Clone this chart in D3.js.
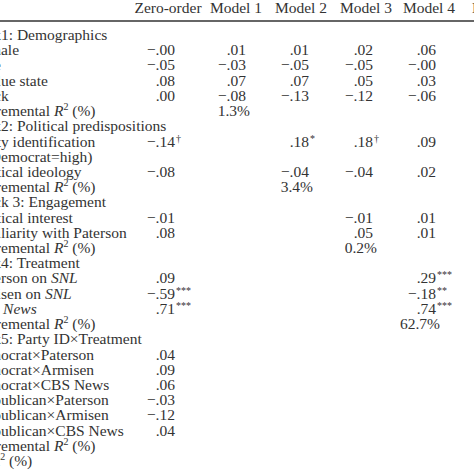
<!DOCTYPE html>
<html><head><meta charset="utf-8">
<script src="https://cdn.jsdelivr.net/npm/d3@7"></script>
<style>body{margin:0;background:#fff}svg{display:block}</style>
</head><body>
<script>
// row labels: [hidden prefix, visible part]
var rowLabels = [
  ["Block", "1: Demographics"], ["Fem", "ale"], ["Age", ""], ["Bl", "ue state"], ["Blac", "k"],
  ["Incr", "emental R2 (%)"],
  ["Block", "2: Political predispositions"], ["Part", "y identification"], ["(D", "emocrat=high)"],
  ["Polit", "ical ideology"], ["Incr", "emental R2 (%)"],
  ["Bloc", "k 3: Engagement"], ["Polit", "ical interest"], ["Fami", "liarity with Paterson"],
  ["Incr", "emental R2 (%)"],
  ["Block", "4: Treatment"], ["Pate", "rson on SNL"], ["Armi", "sen on SNL"], ["CBS ", "News"],
  ["Incr", "emental R2 (%)"],
  ["Block", "5: Party ID×Treatment"], ["Dem", "ocrat×Paterson"], ["Dem", "ocrat×Armisen"],
  ["Dem", "ocrat×CBS News"], ["Rep", "ublican×Paterson"], ["Rep", "ublican×Armisen"],
  ["Rep", "ublican×CBS News"], ["Incr", "emental R2 (%)"], ["Total R", "2 (%)"]
];
var columns = ["Zero-order", "Model 1", "Model 2", "Model 3", "Model 4", "Model 5"];
// values per column, indexed by row; [text, superscript]
var zeroOrder = {1:["−.00"],2:["−.05"],3:[".08"],4:[".00"],7:["−.14","†"],9:["−.08"],12:["−.01"],13:[".08"],
  16:[".09"],17:["−.59","***"],18:[".71","***"],21:[".04"],22:[".09"],23:[".06"],24:["−.03"],25:["−.12"],26:[".04"]};
var model1 = {1:[".01"],2:["−.03"],3:[".07"],4:["−.08"],5:["1.3%"]};
var model2 = {1:[".01"],2:["−.05"],3:[".07"],4:["−.13"],7:[".18","*"],9:["−.04"],10:["3.4%"]};
var model3 = {1:[".02"],2:["−.05"],3:[".05"],4:["−.12"],7:[".18","†"],9:["−.04"],12:["−.01"],13:[".05"],14:["0.2%"]};
var model4 = {1:[".06"],2:["−.00"],3:[".03"],4:["−.06"],7:[".09"],9:[".02"],12:[".01"],13:[".01"],
  16:[".29","***"],17:["−.18","**"],18:[".74","***"],19:["62.7%"]};
var colValues = [zeroOrder, model1, model2, model3, model4];

var W = 474, H = 474;
var svg = d3.select("body").append("svg").attr("width", W).attr("height", H)
  .style("font-family", "'Liberation Serif', serif").style("font-size", "15.5px").attr("fill", "#333");

var y = d3.scaleLinear().domain([0, 28]).range([40, 466]);
var colRight = d3.scaleOrdinal().domain(d3.range(6)).range([175, 246, 309, 373, 436, 500]);
var headerX = [168, 236, 301, 366, 429, 498];

svg.selectAll(".hdr").data(columns).enter().append("text")
  .attr("x", (d, i) => headerX[i]).attr("y", 13).attr("text-anchor", "middle").text(d => d);
svg.append("line").attr("x1", 0).attr("x2", W).attr("y1", 21).attr("y2", 21)
  .attr("stroke", "#666").attr("stroke-width", 2);

var meas = svg.append("text").attr("visibility", "hidden");
function wid(s) { meas.text(s); return meas.node().getComputedTextLength(); }

rowLabels.forEach(function (r, i) {
  var t = svg.append("text").attr("x", -wid(r[0]) + 1).attr("y", y(i)).attr("xml:space", "preserve");
  var full = r[0] + r[1];
  if (/Incremental R2|Total R2/.test(full)) {
    var k = full.indexOf("R2");
    t.append("tspan").text(full.slice(0, k));
    t.append("tspan").style("font-style", "italic").text("R");
    t.append("tspan").attr("dy", -6).style("font-size", "10px").text("2");
    t.append("tspan").attr("dy", 6).text(full.slice(k + 2));
  } else if (/SNL$/.test(full)) {
    t.append("tspan").text(full.slice(0, -3));
    t.append("tspan").style("font-style", "italic").text("SNL");
  } else if (full === "CBS News") {
    t.append("tspan").style("font-style", "italic").text(full);
  } else t.text(full);
});
meas.remove();

colValues.forEach(function (vals, c) {
  Object.keys(vals).forEach(function (k) {
    var v = vals[k], row = +k;
    var pct = /%/.test(v[0]);
    svg.append("text").attr("x", colRight(c) + (pct ? 4 : 0)).attr("y", y(row))
      .attr("text-anchor", "end").text(v[0]);
    if (v[1]) svg.append("text").attr("x", colRight(c) + 1).attr("y", y(row) - 5)
      .style("font-size", "10px").text(v[1]);
  });
});
</script>
</body></html>
